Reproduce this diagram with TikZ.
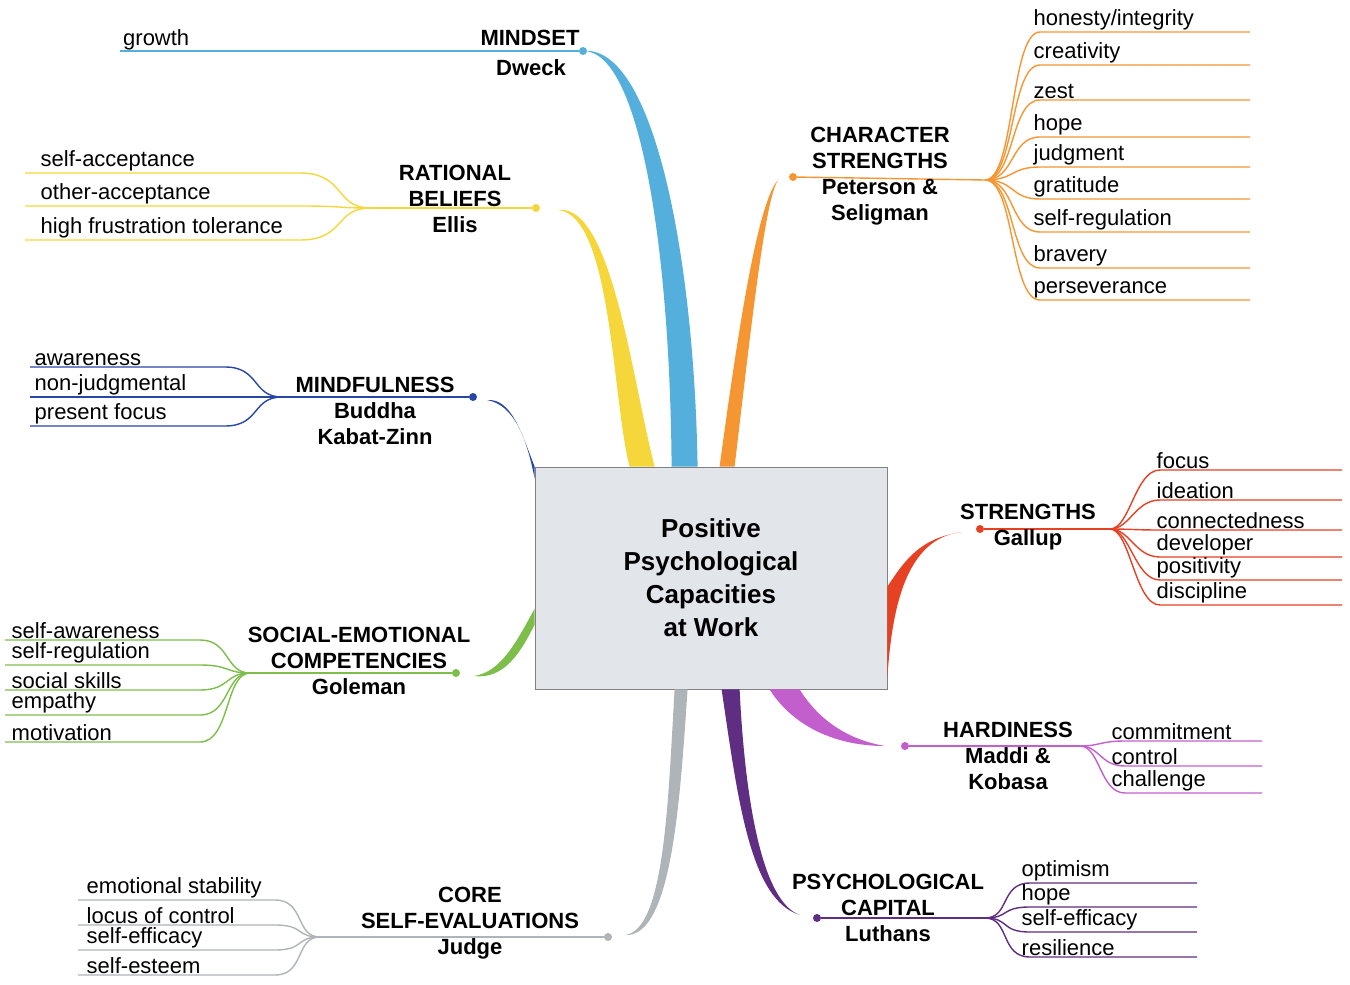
\documentclass[tikz,border=0pt]{standalone}
\usepackage{fontspec}
\setmainfont{Liberation Sans}
\usetikzlibrary{positioning, calc}

\definecolor{msblue}{RGB}{85,175,220}
\definecolor{rbyellow}{RGB}{245,215,60}
\definecolor{mfblue}{RGB}{40,70,165}
\definecolor{segreen}{RGB}{125,190,75}
\definecolor{csgray}{RGB}{175,180,185}
\definecolor{pcpurple}{RGB}{95,45,130}
\definecolor{hdorchid}{RGB}{195,95,205}
\definecolor{stred}{RGB}{230,65,35}
\definecolor{chorange}{RGB}{245,150,50}
\definecolor{corefill}{RGB}{226,230,235}

\begin{document}
\begin{tikzpicture}[
    x=1pt, y=-1pt,
    leaf/.style={font=\fontsize{22}{24}\selectfont, inner sep=1pt, anchor=south west},
    head/.style={font=\bfseries\fontsize{22}{26}\selectfont, align=center, inner sep=0pt},
    dot/.style={circle, fill, inner sep=0pt, minimum size=8pt},
    twig/.style={line width=1.4pt}
]
    \useasboundingbox (0,0) rectangle (1350,985);

    % Centre
    \node[draw=gray, thick, fill=corefill, minimum width=352pt, minimum height=222pt,
          font=\bfseries\fontsize{26}{33}\selectfont, align=center] (core) at (711,578)
          {Positive\\Psychological\\Capacities\\at Work};

    % Mindset
    \node[dot, msblue] (msd) at (583,51) {};
    \fill[msblue] (msd.center) .. controls (640,50) and (670,250) .. ([xshift=137pt]core.north west)
        -- ([xshift=163pt]core.north west) .. controls (694,250) and (652,44) .. (msd.center) -- cycle;
    \draw[twig, msblue] (msd) -- (120,51) coordinate (msend);
    \node[leaf] at ([xshift=2pt]msend) {growth};
    \node[head] at (530,38) {MINDSET};
    \node[head] at (531,68) {Dweck};

    % Rational beliefs
    \node[dot, rbyellow] (rbd) at (536,208) {};
    \coordinate (rbs) at (558,210);
    \fill[rbyellow] (rbs) .. controls (612,215) and (612,400) .. ([xshift=95pt]core.north west)
        -- ([xshift=120pt]core.north west) .. controls (632,380) and (612,203) .. (rbs) -- cycle;
    \coordinate (rbfan) at (370,208);
    \draw[twig, rbyellow] (rbd) -- (rbfan);
    \foreach \ly/\tx in {173/self-acceptance, 206/other-acceptance, 240/high frustration tolerance}
        \draw[twig, rbyellow] (rbfan) .. controls +(-35,0) and +(45,0) .. (300,\ly) -- (25,\ly)
            node[leaf, xshift=14pt, text=black] {\tx};
    \node[head] at (455,199) {RATIONAL\\BELIEFS\\Ellis};

    % Mindfulness
    \node[dot, mfblue] (mfd) at (473,397) {};
    \fill[mfblue] (487,400) .. controls (515,405) and (527,440) .. ([yshift=-12pt]core.north west)
        -- (core.north west) .. controls (522,435) and (512,398) .. (487,400) -- cycle;
    \coordinate (mffan) at (282,397);
    \draw[twig, mfblue] (mfd) -- (mffan);
    \foreach \ly/\tx in {367/awareness, 397/non-judgmental, 426/present focus}
        \draw[twig, mfblue] (mffan) .. controls +(-30,0) and +(35,0) .. (225,\ly) -- (30,\ly)
            node[leaf, xshift=3pt, text=black] {\tx};
    \node[head] at (375,411) {MINDFULNESS\\Buddha\\Kabat-Zinn};

    % Social-emotional competencies
    \node[dot, segreen] (sed) at (456,673) {};
    \fill[segreen] (474,676) .. controls (505,680) and (522,650) .. ([yshift=-158pt]core.north west)
        -- ([yshift=-142pt]core.north west) .. controls (515,645) and (500,672) .. (474,676) -- cycle;
    \coordinate (sefan) at (250,673);
    \draw[twig, segreen] (sed) -- (sefan);
    \foreach \ly/\tx in {640/self-awareness, 665/self-regulation, 690/social skills, 715/empathy, 742/motivation}
        \draw[twig, segreen] (sefan) .. controls +(-25,0) and +(30,0) .. (200,\ly) -- (5,\ly)
            node[leaf, xshift=5pt, text=black] {\tx};
    \node[head] at (359,661) {SOCIAL-EMOTIONAL\\COMPETENCIES\\Goleman};

    % Core self-evaluations
    \node[dot, csgray] (csd) at (608,937) {};
    \fill[csgray] (625,935) .. controls (665,930) and (668,800) .. ([xshift=140pt]core.south west)
        -- ([xshift=153pt]core.south west) .. controls (680,800) and (672,938) .. (625,935) -- cycle;
    \coordinate (csfan) at (320,937);
    \draw[twig, csgray] (csd) -- (csfan);
    \foreach \ly/\tx in {900/emotional stability, 925/locus of control, 950/self-efficacy, 975/self-esteem}
        \draw[twig, csgray] (csfan) .. controls +(-25,0) and +(30,0) .. (275,\ly) -- (78,\ly)
            node[leaf, xshift=7pt, text=black] {\tx};
    \node[head] at (470,923) {CORE\\SELF-EVALUATIONS\\Judge};

    % Psychological capital
    \node[dot, pcpurple] (pcd) at (817,918) {};
    \fill[pcpurple] (800,915) .. controls (750,900) and (738,800) .. ([xshift=187pt]core.south west)
        -- ([xshift=205pt]core.south west) .. controls (745,800) and (762,902) .. (800,915) -- cycle;
    \coordinate (pcfan) at (985,918);
    \draw[twig, pcpurple] (pcd) -- (pcfan);
    \foreach \ly/\tx in {883/optimism, 907/hope, 932/self-efficacy, 957/resilience}
        \draw[twig, pcpurple] (pcfan) .. controls +(25,0) and +(-30,0) .. (1030,\ly) -- (1197,\ly)
            (1020,\ly) node[leaf, text=black] {\tx};
    \node[head] at (888,908) {PSYCHOLOGICAL\\CAPITAL\\Luthans};

    % Hardiness
    \node[dot, hdorchid] (hdd) at (905,746) {};
    \fill[hdorchid] (885,746) .. controls (830,746) and (790,722) .. ([xshift=235pt]core.south west)
        -- ([xshift=265pt]core.south west) .. controls (820,722) and (850,740) .. (885,746) -- cycle;
    \coordinate (hdfan) at (1080,746);
    \draw[twig, hdorchid] (hdd) -- (hdfan);
    \foreach \ly/\tx in {741/commitment, 766/control, 793/challenge}
        \draw[twig, hdorchid] (hdfan) .. controls +(20,0) and +(-25,0) .. (1125,\ly) -- (1262,\ly)
            (1110,\ly) node[leaf, text=black] {\tx};
    \node[head] at (1008,756) {HARDINESS\\Maddi \&\\Kobasa};

    % Strengths
    \node[dot, stred] (std) at (980,529) {};
    \fill[stred] (962,532) .. controls (905,538) and (892,610) .. ([yshift=-210pt]core.north east)
        -- ([yshift=-120pt]core.north east) .. controls (905,560) and (920,538) .. (962,532) -- cycle;
    \coordinate (stfan) at (1110,529);
    \draw[twig, stred] (std) -- (stfan);
    \foreach \ly/\tx in {470/focus, 500/ideation, 530/connectedness, 557/developer, 580/positivity, 605/discipline}
        \draw[twig, stred] (stfan) .. controls +(20,0) and +(-25,0) .. (1160,\ly) -- (1342,\ly)
            (1155,\ly) node[leaf, text=black] {\tx};
    \node[head] at (1028,527) {STRENGTHS\\Gallup};

    % Character strengths
    \node[dot, chorange] (chd) at (793,177) {};
    \fill[chorange] (778,180) .. controls (760,200) and (742,300) .. ([xshift=185pt]core.north west)
        -- ([xshift=200pt]core.north west) .. controls (752,320) and (765,200) .. (778,180) -- cycle;
    \coordinate (chfan) at (985,180);
    \draw[twig, chorange] (chd) -- (chfan);
    \foreach \ly/\tx in {32/{honesty/integrity}, 65/creativity, 100/zest, 137/hope, 167/judgment,
                         199/gratitude, 232/self-regulation, 268/bravery, 300/perseverance}
        \draw[twig, chorange] (chfan) .. controls +(30,0) and +(-30,0) .. (1040,\ly) -- (1250,\ly)
            (1032,\ly) node[leaf, text=black] {\tx};
    \node[head] at (880,176) {CHARACTER\\STRENGTHS\\Peterson \&\\Seligman};
\end{tikzpicture}
\end{document}
